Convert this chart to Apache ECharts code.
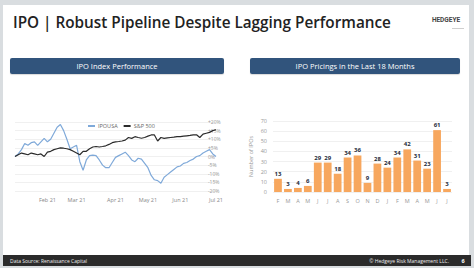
<!DOCTYPE html>
<html><head><meta charset="utf-8">
<script src="https://cdn.jsdelivr.net/npm/echarts@6/dist/echarts.min.js"></script>
<style>
html,body{margin:0;padding:0;background:#d9dde0;overflow:hidden}
#wrap{position:relative;width:474px;height:268px}
.box{position:absolute}
#c{position:absolute;left:0;top:0;width:474px;height:268px}
</style>
</head><body>
<div id="wrap">
  <div class="box" style="left:3px;top:5px;width:466px;height:250px;background:#fff"></div>
  <div class="box" style="left:3px;top:255px;width:468px;height:11px;background:#2b2b2b"></div>
  <div class="box" style="left:10px;top:58px;width:214px;height:16px;background:#31547c;border-radius:2px;box-shadow:0 1px 1px rgba(0,0,0,0.15)"></div>
  <div class="box" style="left:250px;top:58px;width:210px;height:16px;background:#31547c;border-radius:2px;box-shadow:0 1px 1px rgba(0,0,0,0.15)"></div>
  <div class="box" style="left:452px;top:28px;width:12px;height:1px;background:#cfcfcf"></div>
  <div id="c"></div>
</div>
<script>
// ---- Left chart: IPO Index Performance (every 2nd trading day, % change) ----
const dates = [
 '2021-01-04','2021-01-06','2021-01-08','2021-01-12','2021-01-14','2021-01-19','2021-01-21','2021-01-25','2021-01-27','2021-01-29',
 '2021-02-02','2021-02-04','2021-02-08','2021-02-10','2021-02-12','2021-02-17','2021-02-19','2021-02-23','2021-02-25',
 '2021-03-01','2021-03-03','2021-03-05','2021-03-09','2021-03-11','2021-03-15','2021-03-17','2021-03-19','2021-03-23','2021-03-25','2021-03-29','2021-03-31',
 '2021-04-05','2021-04-07','2021-04-09','2021-04-13','2021-04-15','2021-04-19','2021-04-21','2021-04-23','2021-04-27','2021-04-29',
 '2021-05-03','2021-05-05','2021-05-07','2021-05-11','2021-05-13','2021-05-17','2021-05-19','2021-05-21','2021-05-25','2021-05-27',
 '2021-06-01','2021-06-03','2021-06-07','2021-06-09','2021-06-11','2021-06-15','2021-06-17','2021-06-21','2021-06-23','2021-06-25','2021-06-29',
 '2021-07-01'
];
const ipousa = [
 0,1.5,4,7.5,6.5,8,8.5,6.5,8.5,10.5,
 8.5,10,13.5,17,18.5,15,10,4.5,5.5,
 6.5,-3,-8,-2,0.5,0.8,0.5,-2,-5,-6.5,-6.5,-3.5,
 -0.5,0.5,1.5,2.5,0.5,-2,-3,-1,-1.5,-4,
 -6.5,-11,-13.5,-14,-15.5,-12,-10.5,-9,-7.5,-6,
 -5.5,-4,-3.5,-2.3,-1.5,0,0.5,2,3,4,1.5,
 0
];
const sp500 = [
 0,1,2,1.5,1,2,1.5,1,1.5,0,
 2.5,3,4,4.5,5,4.8,4.5,4,3,
 2,1,3,3,4.5,5.5,5.8,5.5,5.8,6.2,7,8,
 8.5,8.7,9,9.5,11,10.5,11.5,11,10.6,11,
 11.8,12.5,12.5,9,11,10.5,10.8,11,11.2,11.5,
 11.5,11.8,12,12.2,12.5,12.6,11,13,13.5,14,15,
 15.5
];
const seriesNames = ['IPOUSA','S&P 500'];
const monthAbbr = ['Jan','Feb','Mar','Apr','May','Jun','Jul','Aug','Sep','Oct','Nov','Dec'];

// ---- Right chart: IPO pricings, last 18 months ----
const months = ['F','M','A','M','J','J','A','S','O','N','D','J','F','M','A','M','J','J'];
const pricings = [13,3,4,6,29,29,18,34,36,9,28,24,34,42,31,23,61,3];

const monthStartIdx = [];
dates.forEach((d,i)=>{ if(i>0 && d.slice(5,7)!==dates[i-1].slice(5,7)) monthStartIdx.push(i); });

const FONT = "'Open Sans', sans-serif";
const chart = echarts.init(document.getElementById('c'), null, {renderer:'svg'});
chart.setOption({
  animation:false,
  textStyle:{fontFamily:FONT},
  graphic:[
    {type:'text', x:13, y:22, style:{text:'IPO | Robust Pipeline Despite Lagging Performance', fill:'#222', font:"600 15.3px 'Open Sans'", verticalAlign:'middle'}},
    {type:'text', x:446, y:20, style:{text:'HEDGEYE', fill:'#444', font:"bold 6.5px Roboto", align:'center', verticalAlign:'middle'}},
    {type:'text', x:117, y:66, style:{text:'IPO Index Performance', fill:'#fff', font:"7.5px 'Open Sans'", align:'center', verticalAlign:'middle'}},
    {type:'text', x:355, y:66, style:{text:'IPO Pricings in the Last 18 Months', fill:'#fff', font:"7.5px 'Open Sans'", align:'center', verticalAlign:'middle'}},
    {type:'text', x:10, y:260.5, style:{text:'Data Source: Renaissance Capital', fill:'#eee', font:"5px 'Open Sans'", verticalAlign:'middle'}},
    {type:'text', x:449, y:260.5, style:{text:'\u00a9 Hedgeye Risk Management LLC.', fill:'#eee', font:"5px 'Open Sans'", align:'right', verticalAlign:'middle'}},
    {type:'text', x:463, y:260.5, style:{text:'6', fill:'#fff', font:"bold 5.5px 'Open Sans'", align:'center', verticalAlign:'middle'}}
  ],
  legend:{
    data:seriesNames, left:88, top:123, padding:0, itemGap:6, itemWidth:7, itemHeight:2, icon:'rect',
    textStyle:{fontSize:5.5, color:'#666', padding:[0,0,0,-2]}
  },
  grid:[
    {left:15, top:122, width:201, height:69, containLabel:false, outerBoundsMode:'none'},
    {left:273, top:121, width:179, height:71, containLabel:false, outerBoundsMode:'none'}
  ],
  xAxis:[
    {type:'category', gridIndex:0, data:dates, boundaryGap:false,
     axisLine:{show:false}, axisTick:{show:false},
     axisLabel:{interval:(i)=>monthStartIdx.includes(i), fontSize:5.5, color:'#888', margin:6,
       formatter:(v)=> monthAbbr[parseInt(v.slice(5,7),10)-1]+' '+v.slice(2,4)}},
    {type:'category', gridIndex:1, data:months,
     axisLine:{show:false}, axisTick:{show:false},
     axisLabel:{fontSize:5.5, color:'#999', margin:6, interval:0}}
  ],
  yAxis:[
    {type:'value', gridIndex:0, position:'right', min:-20, max:20, interval:5,
     splitLine:{lineStyle:{color:'#ececec', width:0.8}},
     axisLine:{show:false}, axisTick:{show:false},
     axisLabel:{fontSize:5, color:'#999', margin:-8, formatter:(v)=> (v>0?'+':'')+v+'%'}},
    {type:'value', gridIndex:1, min:0, max:70, interval:10,
     name:'Number of IPOs', nameLocation:'middle', nameGap:19, nameRotate:90,
     nameTextStyle:{fontSize:5.5, color:'#999'},
     splitLine:{lineStyle:{color:'#ececec', width:0.8}},
     axisLine:{show:false}, axisTick:{show:false},
     axisLabel:{fontSize:5.5, color:'#999', margin:6}}
  ],
  series:[
    {name:'IPOUSA', type:'line', xAxisIndex:0, yAxisIndex:0, data:ipousa, showSymbol:false, symbol:'none',
     color:'#7fa9d9', lineStyle:{width:1.2, color:'#7fa9d9'}},
    {name:'S&P 500', type:'line', xAxisIndex:0, yAxisIndex:0, data:sp500, showSymbol:false, symbol:'none',
     color:'#2b2b2b', lineStyle:{width:1.2, color:'#2b2b2b'}},
    {name:'IPOs', type:'bar', xAxisIndex:1, yAxisIndex:1, data:pricings, barCategoryGap:'22%',
     itemStyle:{color:'#f7a75e'},
     label:{show:true, position:'top', distance:2, fontSize:6, fontWeight:'bold', color:'#1e2b3b'}}
  ]
});
</script>
</body></html>
